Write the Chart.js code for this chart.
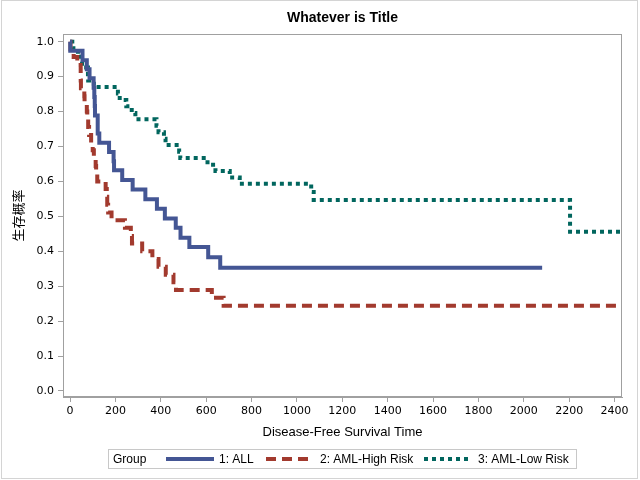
<!DOCTYPE html>
<html>
<head>
<meta charset="utf-8">
<script src="https://cdn.jsdelivr.net/npm/chart.js@4"></script>
<style>
  html, body { margin: 0; padding: 0; background: #fff; }
  canvas { display: block; }
</style>
</head>
<body>
<canvas id="myChart" width="640" height="480"></canvas>
<script>
// Kaplan-Meier step points (time, survival) per group
const allTime = [0, 1, 55, 74, 86, 104, 107, 109, 110, 122, 129, 172, 192, 194, 230, 276, 332, 383, 418, 466, 487, 526, 609, 662, 2081];
const allSurv = [1, 0.974, 0.947, 0.921, 0.895, 0.868, 0.842, 0.816, 0.789, 0.737, 0.711, 0.684, 0.658, 0.632, 0.604, 0.577, 0.549, 0.522, 0.494, 0.467, 0.439, 0.412, 0.383, 0.353, 0.353];

const highTime = [0, 2, 16, 32, 47, 48, 63, 64, 74, 76, 80, 84, 93, 100, 105, 113, 115, 120, 157, 162, 164, 168, 183, 242, 268, 273, 318, 363, 390, 422, 456, 467, 625, 677, 2640];
const highSurv = [1, 0.978, 0.956, 0.933, 0.889, 0.867, 0.844, 0.822, 0.800, 0.778, 0.756, 0.733, 0.711, 0.689, 0.667, 0.644, 0.622, 0.600, 0.578, 0.556, 0.533, 0.511, 0.489, 0.467, 0.444, 0.422, 0.400, 0.378, 0.356, 0.333, 0.311, 0.289, 0.267, 0.244, 0.244];

const lowTime = [0, 10, 35, 48, 53, 79, 80, 105, 211, 219, 248, 272, 288, 381, 390, 414, 421, 481, 486, 606, 641, 704, 748, 1063, 1074, 2204, 2569];
const lowSurv = [1, 0.981, 0.963, 0.944, 0.926, 0.907, 0.889, 0.870, 0.852, 0.833, 0.815, 0.796, 0.778, 0.759, 0.741, 0.722, 0.704, 0.685, 0.667, 0.648, 0.630, 0.611, 0.593, 0.570, 0.547, 0.456, 0.456];

const groupNames = ['1: ALL', '2: AML-High Risk', '3: AML-Low Risk'];
const xTicks = [0, 200, 400, 600, 800, 1000, 1200, 1400, 1600, 1800, 2000, 2200, 2400];
const yTicks = [0, 0.1, 0.2, 0.3, 0.4, 0.5, 0.6, 0.7, 0.8, 0.9, 1.0];

const colors = ['#445694', '#A23A2E', '#01665E'];
const dashes = [[], [10, 6], [4, 4]];
const frameColor = '#a0a0a0';

function pts(t, s) {
    return t.map((v, i) => ({ x: v, y: s[i] }));
}

// title, axis titles, frame and legend
const decor = {
    id: 'decor',
    afterDraw(chart) {
        const ctx = chart.ctx;
        const a = chart.chartArea;
        ctx.save();

        // outer border
        ctx.strokeStyle = '#d4d4d4';
        ctx.lineWidth = 1;
        ctx.strokeRect(1.5, 0.5, 636, 478);

        // plot frame
        ctx.strokeStyle = frameColor;
        ctx.strokeRect(Math.round(a.left) + 0.5, Math.round(a.top) + 0.5,
            Math.round(a.right - a.left) - 1, Math.round(a.bottom - a.top) - 1);

        const cx = (a.left + a.right) / 2;
        const cy = (a.top + a.bottom) / 2;

        ctx.fillStyle = '#000';
        ctx.textBaseline = 'middle';
        ctx.textAlign = 'center';
        ctx.font = 'bold 14px "Liberation Sans", Arial, sans-serif';
        ctx.fillText('Whatever is Title', cx, 18);

        ctx.font = '13px "Liberation Sans", Arial, sans-serif';
        ctx.fillText('Disease-Free Survival Time', cx, 432);

        ctx.save();
        ctx.translate(18, cy);
        ctx.rotate(-Math.PI / 2);
        ctx.font = '13px "Noto Sans CJK SC", sans-serif';
        ctx.fillText('生存概率', 0, 0);
        ctx.restore();

        // legend
        ctx.strokeStyle = '#c8c8c8';
        ctx.strokeRect(108.5, 449.5, 468, 19);
        ctx.textAlign = 'left';
        ctx.font = '12px "Liberation Sans", Arial, sans-serif';
        ctx.fillText('Group', 113, 459.5);
        const lx = [166, 266, 424];
        const tx = [219, 320, 478];
        for (let i = 0; i < 3; i++) {
            ctx.beginPath();
            ctx.strokeStyle = colors[i];
            ctx.lineWidth = 4;
            ctx.lineCap = 'butt';
            ctx.setLineDash(dashes[i]);
            ctx.moveTo(lx[i], 459);
            ctx.lineTo(lx[i] + (i === 1 ? 46 : 48), 459);
            ctx.stroke();
            ctx.setLineDash([]);
            ctx.fillStyle = '#000';
            ctx.fillText(groupNames[i], tx[i], 459.5);
        }
        ctx.restore();
    }
};

const ctx = document.getElementById('myChart').getContext('2d');

new Chart(ctx, {
    type: 'line',
    data: {
        datasets: [
            { label: groupNames[0], data: pts(allTime, allSurv) },
            { label: groupNames[1], data: pts(highTime, highSurv) },
            { label: groupNames[2], data: pts(lowTime, lowSurv) }
        ].map((d, i) => Object.assign(d, {
            borderColor: colors[i],
            backgroundColor: colors[i],
            borderWidth: 4,
            borderDash: dashes[i],
            borderCapStyle: 'butt',
            borderJoinStyle: 'miter',
            stepped: 'before',
            pointRadius: 0,
            fill: false
        }))
    },
    options: {
        responsive: false,
        animation: false,
        devicePixelRatio: 1,
        layout: {
            padding: { left: 0, right: 18, top: 34, bottom: 0 }
        },
        scales: {
            x: {
                type: 'linear',
                min: -31,
                max: 2433,
                afterFit: s => { s.height = 83; },
                afterBuildTicks: s => { s.ticks = xTicks.map(v => ({ value: v })); },
                ticks: {
                    color: '#000',
                    padding: 3,
                    maxRotation: 0,
                    font: { family: '"DejaVu Sans", sans-serif', size: 11 },
                    callback: v => String(v)
                },
                grid: { drawOnChartArea: false, drawTicks: true, tickLength: 5, color: frameColor },
                border: { display: true, color: frameColor }
            },
            y: {
                min: -0.0172,
                max: 1.022,
                afterFit: s => { s.width = 63; },
                afterBuildTicks: s => { s.ticks = yTicks.map(v => ({ value: v })); },
                ticks: {
                    color: '#000',
                    padding: 4,
                    font: { family: '"DejaVu Sans", sans-serif', size: 11 },
                    callback: v => v.toFixed(1)
                },
                grid: { drawOnChartArea: false, drawTicks: true, tickLength: 5, color: frameColor },
                border: { display: true, color: frameColor }
            }
        },
        plugins: {
            legend: { display: false },
            title: { display: false },
            tooltip: { enabled: false }
        }
    },
    plugins: [decor]
});
</script>
</body>
</html>
